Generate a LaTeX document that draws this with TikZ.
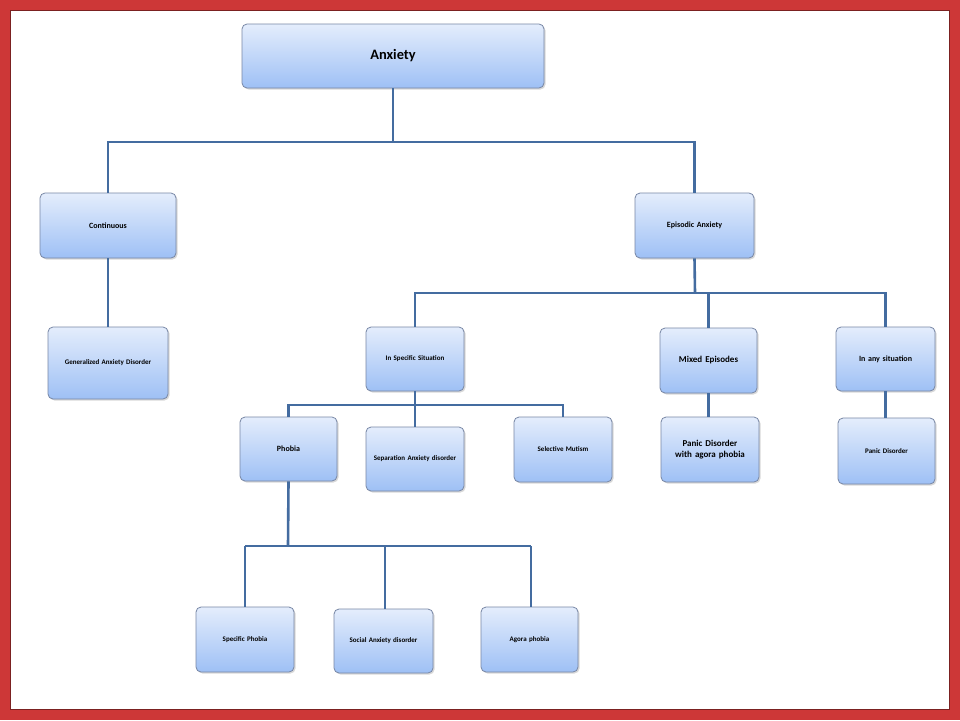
\documentclass[tikz,border=0pt]{standalone}
\usepackage{fontspec}
\setmainfont{Carlito}
\usetikzlibrary{shadows}
\definecolor{ln}{RGB}{68,108,160}
\definecolor{bt}{RGB}{228,237,252}
\definecolor{bb}{RGB}{158,192,245}
\definecolor{bd}{RGB}{120,135,165}
\definecolor{fr}{RGB}{205,55,55}
\tikzset{box/.style={draw=bd,line width=0.8pt,rounded corners=5pt,top color=bt,bottom color=bb,align=center,font=\bfseries\footnotesize,inner sep=1pt,drop shadow={shadow xshift=1.5pt,shadow yshift=-1.5pt,opacity=0.3}},
con/.style={draw=ln,line width=2.6pt}}
\newcommand{\bx}[7][]{\node[box,#1,minimum width=#4pt-#2pt,minimum height=#5pt-#3pt,text width=#4pt-#2pt-8pt] (#6) at ({(#2+#4)/2},{(#3+#5)/2}) {#7};}
\begin{document}
\begin{tikzpicture}[x=1pt,y=-1pt]
\useasboundingbox (0,0) rectangle (960,720);
\fill[fr] (0,0) rectangle (960,720);
\fill[white] (10,10) rectangle (949,709);
\draw[fr!60!black,line width=1pt] (10,10) rectangle (949,709);
\bx[font=\bfseries\Large]{242}{24}{544}{88}{top}{Anxiety}
\bx{40}{193}{176}{258}{cont}{Continuous}
\bx{635}{193}{754}{258}{epi}{Episodic Anxiety}
\bx[font=\bfseries\scriptsize]{48}{327}{168}{399}{gad}{Generalized Anxiety Disorder}
\bx[font=\bfseries\scriptsize]{366}{327}{464}{391}{spec}{In Specific Situation}
\bx[font=\bfseries\small]{660}{328}{757}{393}{mix}{Mixed Episodes}
\bx{836}{327}{935}{391}{any}{In any situation}
\bx{240}{417}{337}{481}{pho}{Phobia}
\bx[font=\bfseries\scriptsize]{366}{427}{464}{491}{sep}{Separation Anxiety disorder}
\bx[font=\bfseries\scriptsize]{514}{417}{612}{482}{sel}{Selective Mutism}
\bx[font=\bfseries\small]{661}{417}{759}{482}{pda}{Panic Disorder with agora phobia}
\bx[font=\bfseries\scriptsize]{838}{418}{935}{484}{pd}{Panic Disorder}
\bx[font=\bfseries\scriptsize]{196}{607}{294}{672}{sp}{Specific Phobia}
\bx[font=\bfseries\scriptsize]{334}{609}{433}{673}{soc}{Social Anxiety disorder}
\bx[font=\bfseries\scriptsize]{481}{607}{578}{672}{ago}{Agora phobia}
\begin{scope}[on background layer/.style={}]
\end{scope}
\draw[con] (top.south) -- (393,142) coordinate (h1);
\draw[con] (cont.north) -- (cont.north|-h1) -- (epi.north|-h1) -- (epi.north);
\draw[con] (cont.south) -- (gad.north-|cont.south);
\draw[con] (epi.south) -- (695,293) coordinate (h2);
\draw[con] (spec.north) -- (spec.north|-h2) -- (any.north|-h2) -- (any.north);
\draw[con] (mix.north) -- (mix.north|-h2);
\draw[con] (spec.south) -- (415,405) coordinate (h3);
\draw[con] (pho.north) -- (pho.north|-h3) -- (sel.north|-h3) -- (sel.north);
\draw[con] (h3) -- (sep.north);
\draw[con] (mix.south) -- (pda.north-|mix.south);
\draw[con] (any.south) -- (pd.north-|any.south);
\draw[con] (pho.south) -- (288,546) coordinate (h4);
\draw[con] (245,546) -- (531,546);
\draw[con] (245,546) -- (245,607);
\draw[con] (soc.north-|385,0) -- (385,546);
\draw[con] (531,546) -- (531,607);
\end{tikzpicture}
\end{document}
